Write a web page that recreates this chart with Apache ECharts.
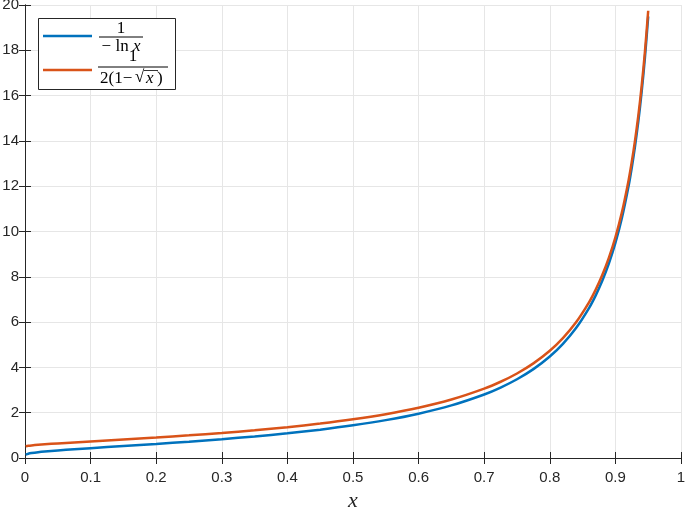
<!DOCTYPE html>
<html><head><meta charset="utf-8">
<script src="https://cdn.jsdelivr.net/npm/echarts@6/dist/echarts.min.js"></script>
<style>html,body{margin:0;padding:0;background:#fff}#c{width:685px;height:508px}</style>
</head><body><div id="c"></div>
<script>
const xs = [0.001,0.005,0.01,0.02,0.03,0.05,0.075,0.1,0.15,0.2,0.25,0.3,0.35,0.4,0.45,0.5,0.55,0.6,0.65,0.7,0.725,0.75,0.775,0.8,0.82,0.84,0.86,0.87,0.88,0.89,0.9,0.91,0.92,0.925,0.93,0.935,0.94,0.945,0.95];
const blueY = [0.1448,0.1887,0.2171,0.2556,0.2852,0.3338,0.3861,0.4343,0.5271,0.6213,0.7213,0.8306,0.9525,1.0913,1.2523,1.4427,1.6727,1.9576,2.3213,2.8037,3.1092,3.4761,3.9232,4.4814,5.0391,5.7355,6.6304,7.1808,7.8227,8.5813,9.4912,10.603,11.993,12.827,13.780,14.878,16.161,17.676,19.496];
const orangeY = [0.5163,0.5380,0.5556,0.5824,0.6047,0.6440,0.6886,0.7312,0.8161,0.9045,1.0,1.1055,1.2243,1.3604,1.5189,1.7071,1.9351,2.2183,2.5803,3.0611,3.3663,3.7321,4.1785,4.7361,5.2932,5.9891,6.8835,7.4336,8.0753,8.8336,9.7434,10.855,12.245,13.078,14.031,15.130,16.413,17.928,19.746];
const xTickLabels = ['0','0.1','0.2','0.3','0.4','0.5','0.6','0.7','0.8','0.9','1'];
const yTickLabels = ['0','2','4','6','8','10','12','14','16','18','20'];
const seriesNames = ['1/(−ln x)','1/(2(1−√x))'];

const chart = echarts.init(document.getElementById('c'));
const axCol = '#262626';
const labelFont = {color: axCol, fontSize: 15, fontFamily: 'Liberation Sans, Arial, sans-serif'};
const serif = 'Liberation Serif, DejaVu Serif, serif';
function pair(xa, ya){ return xa.map((v,i)=>[v, ya[i]]); }

chart.setOption({
  animation: false,
  grid: {left: 25, right: 4, top: 5, bottom: 50, outerBoundsMode: 'none', containLabel: false},
  xAxis: [{
    type: 'value', min: 0, max: 1, interval: 0.1,
    axisLine: {lineStyle: {color: axCol, width: 1}},
    axisTick: {inside: true, length: 6, lineStyle: {color: axCol}},
    axisLabel: Object.assign({margin: 12, formatter: (v)=>xTickLabels[Math.round(v*10)]}, labelFont),
    splitLine: {show: true, lineStyle: {color: '#e6e6e6', width: 1}},
    name: 'x', nameLocation: 'middle', nameGap: 31,
    nameTextStyle: {fontFamily: serif, fontStyle: 'italic', fontSize: 22, color: axCol}
  },{
    type: 'value', min: 0, max: 1, interval: 0.1, position: 'top',
    axisLine: {show: true, lineStyle: {color: axCol, width: 1}},
    axisTick: {show: true, inside: true, length: 6, lineStyle: {color: axCol}},
    axisLabel: {show: false}, splitLine: {show: false}
  }],
  yAxis: [{
    type: 'value', min: 0, max: 20, interval: 2,
    axisLine: {show: true, lineStyle: {color: axCol, width: 1}},
    axisTick: {show: true, inside: true, length: 6, lineStyle: {color: axCol}},
    axisLabel: Object.assign({margin: 6, formatter: (v)=>yTickLabels[Math.round(v/2)]}, labelFont),
    splitLine: {show: true, lineStyle: {color: '#e6e6e6', width: 1}}
  },{
    type: 'value', min: 0, max: 20, interval: 2, position: 'right',
    axisLine: {show: true, lineStyle: {color: axCol, width: 1}},
    axisTick: {show: true, inside: true, length: 6, lineStyle: {color: axCol}},
    axisLabel: {show: false}, splitLine: {show: false}
  }],
  series: [
    {name: seriesNames[0], type: 'line', data: pair(xs, blueY), showSymbol: false, smooth: 0.3,
     lineStyle: {color: '#0072BD', width: 2.5}, itemStyle: {color: '#0072BD'}},
    {name: seriesNames[1], type: 'line', data: pair(xs, orangeY), showSymbol: false, smooth: 0.3,
     lineStyle: {color: '#D95319', width: 2.5}, itemStyle: {color: '#D95319'}}
  ],
  graphic: [
    {type: 'rect', shape: {x: 38.5, y: 18.5, width: 137, height: 71}, style: {fill: '#fff', stroke: axCol, lineWidth: 1}, z: 100},
    {type: 'line', shape: {x1: 43, y1: 36, x2: 92, y2: 36}, style: {stroke: '#0072BD', lineWidth: 2.5}, z: 101},
    {type: 'line', shape: {x1: 43, y1: 70, x2: 92, y2: 70}, style: {stroke: '#D95319', lineWidth: 2.5}, z: 101},
    {type: 'text', x: 121, y: 29, style: {text: '1', font: '17px ' + serif, fill: '#000', align: 'center', verticalAlign: 'middle'}, z: 101},
    {type: 'line', shape: {x1: 99, y1: 37, x2: 143, y2: 37}, style: {stroke: '#000', lineWidth: 1}, z: 101},
    {type: 'text', x: 121, y: 47, style: {text: '{a|− ln }{b|x}', align: 'center', verticalAlign: 'middle',
      rich: {a: {font: '17px ' + serif, fill: '#000', color: '#000'}, b: {font: 'italic 17px ' + serif, fill: '#000', color: '#000'}}}, z: 101},
    {type: 'text', x: 133, y: 57, style: {text: '1', font: '17px ' + serif, fill: '#000', align: 'center', verticalAlign: 'middle'}, z: 101},
    {type: 'line', shape: {x1: 98, y1: 67, x2: 168, y2: 67}, style: {stroke: '#000', lineWidth: 1}, z: 101},
    {type: 'text', x: 100, y: 79, style: {text: '2(1−', font: '17px ' + serif, fill: '#000', align: 'left', verticalAlign: 'middle'}, z: 101},
    {type: 'text', x: 135, y: 78, style: {text: '√', font: '17px ' + serif, fill: '#000', align: 'left', verticalAlign: 'middle'}, z: 101},
    {type: 'line', shape: {x1: 144, y1: 70.5, x2: 158, y2: 70.5}, style: {stroke: '#000', lineWidth: 0.8}, z: 101},
    {type: 'text', x: 146, y: 79, style: {text: 'x', font: 'italic 17px ' + serif, fill: '#000', align: 'left', verticalAlign: 'middle'}, z: 101},
    {type: 'text', x: 157, y: 79, style: {text: ')', font: '17px ' + serif, fill: '#000', align: 'left', verticalAlign: 'middle'}, z: 101}
  ]
});
</script></body></html>
